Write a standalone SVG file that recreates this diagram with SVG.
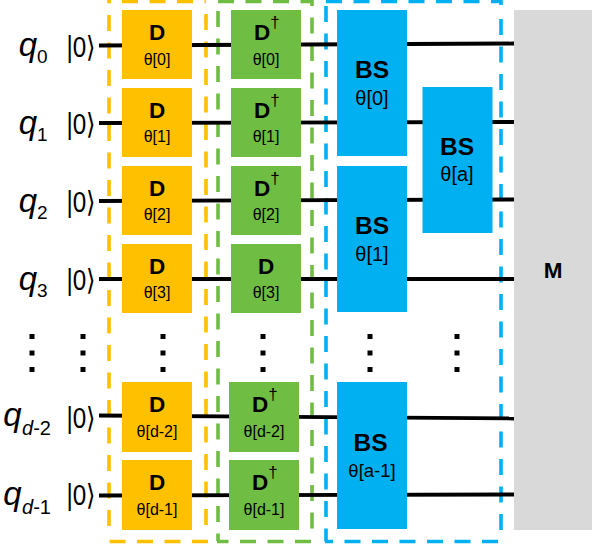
<svg xmlns="http://www.w3.org/2000/svg" width="601" height="560" viewBox="0 0 601 560">
<style>
text{font-family:"Liberation Sans",Arial,sans-serif;fill:#000;text-anchor:middle}
.w{stroke:#000;stroke-width:3.8;fill:none}
.o{fill:#ffc000}.g{fill:#70bd44}.b{fill:#00b0f0}
.t{font-size:22.500px;font-weight:bold}
.bs{font-size:24.500px;font-weight:bold}
.s{font-size:16px}
.s2{font-size:20px}
.s3{font-size:18.500px}
.dag{font-size:17px}
.q{font-size:33px;font-style:italic}
.sub{font-size:19px;text-anchor:start}
.sub2{font-size:20px;text-anchor:start}
.k{font-size:29px}
.dash{fill:none;stroke-width:3.600;stroke-dasharray:16 11.500}
</style>
<defs>
<g id="dots"><rect x="-2.500" y="0" width="5" height="5"/><rect x="-2.500" y="16.500" width="5" height="5"/><rect x="-2.500" y="33" width="5" height="5"/></g>
</defs>
<g id="frames">
<g stroke="#ffc000"><path class="dash" d="M107.200 1.500H111"/><path class="dash" d="M122 1.500H206"/><path class="dash" d="M109 15V533"/><path class="dash" d="M206 14V533"/><path class="dash" d="M109.500 541.500H208"/></g>
<g stroke="#70bd44"><path class="dash" d="M218 1.500H312V533"/><path class="dash" d="M218 11V541"/><path class="dash" d="M311 541.500H217"/></g>
<g stroke="#00b0f0"><path class="dash" d="M326 1.500H501V5"/><path class="dash" d="M326 6V541.500"/><path class="dash" d="M501 19V533"/><path class="dash" d="M498 541.500H325"/></g>
</g>
<g id="connectors">
<path class="w" d="M99 45.500L514 43.500"/>
<path class="w" d="M99 123L514 122"/>
<path class="w" d="M99 201L514 199.500"/>
<path class="w" d="M99 279L514 279"/>
<path class="w" d="M99 415.500L514 418.500"/>
<path class="w" d="M99 495.500L514 494.500"/>
</g>
<g id="labels">
<text class="q" x="28" y="56">q</text><text class="sub" x="37" y="63">0</text>
<text class="q" x="28" y="134">q</text><text class="sub" x="37" y="141">1</text>
<text class="q" x="28" y="212">q</text><text class="sub" x="37" y="219">2</text>
<text class="q" x="28" y="290">q</text><text class="sub" x="37" y="297">3</text>
<text class="q" x="12.500" y="426">q</text><text class="sub2" x="22" y="435"><tspan font-style="italic">d</tspan>-2</text>
<text class="q" x="12.500" y="505">q</text><text class="sub2" x="22" y="514"><tspan font-style="italic">d</tspan>-1</text>
<text class="k" x="81" y="57" textLength="29" lengthAdjust="spacingAndGlyphs">|0⟩</text>
<text class="k" x="81" y="134" textLength="29" lengthAdjust="spacingAndGlyphs">|0⟩</text>
<text class="k" x="81" y="212" textLength="29" lengthAdjust="spacingAndGlyphs">|0⟩</text>
<text class="k" x="81" y="290" textLength="29" lengthAdjust="spacingAndGlyphs">|0⟩</text>
<text class="k" x="81" y="427.500" textLength="29" lengthAdjust="spacingAndGlyphs">|0⟩</text>
<text class="k" x="81" y="505" textLength="29" lengthAdjust="spacingAndGlyphs">|0⟩</text>
</g>
<g id="dots-row">
<use href="#dots" x="32" y="334"/><use href="#dots" x="83" y="334"/><use href="#dots" x="163" y="334"/><use href="#dots" x="263" y="334"/><use href="#dots" x="370" y="334"/><use href="#dots" x="457" y="334"/>
</g>
<g id="d0"><rect class="o" x="122" y="10" width="70" height="69"/><text class="t" x="157" y="40">D</text><text class="s" x="157" y="65">θ[0]</text></g>
<g id="d1"><rect class="o" x="122" y="88" width="70" height="69"/><text class="t" x="157" y="118">D</text><text class="s" x="157" y="142">θ[1]</text></g>
<g id="d2"><rect class="o" x="122" y="166" width="70" height="69"/><text class="t" x="157" y="196">D</text><text class="s" x="157" y="220">θ[2]</text></g>
<g id="d3"><rect class="o" x="122" y="244" width="70" height="69"/><text class="t" x="157" y="274">D</text><text class="s" x="157" y="298">θ[3]</text></g>
<g id="d4"><rect class="o" x="122" y="382" width="70" height="70"/><text class="t" x="157" y="412">D</text><text class="s" x="157" y="437">θ[d-2]</text></g>
<g id="d5"><rect class="o" x="122" y="460" width="70" height="70"/><text class="t" x="157" y="490">D</text><text class="s" x="157" y="515">θ[d-1]</text></g>
<g id="g0"><rect class="g" x="231" y="10" width="70" height="69"/><text class="t" x="262" y="40">D</text><text class="dag" x="275" y="28">†</text><text class="s" x="266" y="65">θ[0]</text></g>
<g id="g1"><rect class="g" x="231" y="88" width="70" height="69"/><text class="t" x="262" y="118">D</text><text class="dag" x="275" y="106">†</text><text class="s" x="266" y="142">θ[1]</text></g>
<g id="g2"><rect class="g" x="231" y="166" width="70" height="69"/><text class="t" x="262" y="196">D</text><text class="dag" x="275" y="184">†</text><text class="s" x="266" y="220">θ[2]</text></g>
<g id="g3"><rect class="g" x="231" y="244" width="70" height="69"/><text class="t" x="266" y="274">D</text><text class="s" x="266" y="298">θ[3]</text></g>
<g id="g4"><rect class="g" x="229" y="382" width="70" height="70"/><text class="t" x="260" y="412">D</text><text class="dag" x="273" y="400">†</text><text class="s" x="264" y="437">θ[d-2]</text></g>
<g id="g5"><rect class="g" x="229" y="460" width="70" height="70"/><text class="t" x="260" y="490">D</text><text class="dag" x="273" y="478">†</text><text class="s" x="264" y="515">θ[d-1]</text></g>
<g id="bs0"><rect class="b" x="337" y="10" width="70" height="146"/><text class="bs" x="372" y="78">BS</text><text class="s2" x="372" y="105">θ[0]</text></g>
<g id="bs1"><rect class="b" x="337" y="166" width="70" height="146"/><text class="bs" x="372" y="234">BS</text><text class="s2" x="372" y="261">θ[1]</text></g>
<g id="bs2"><rect class="b" x="337" y="382" width="70" height="147"/><text class="bs" x="370.500" y="451">BS</text><text class="s3" x="372" y="477">θ[a-1]</text></g>
<g id="bsa"><rect class="b" x="422.500" y="87" width="70" height="146"/><text class="bs" x="457" y="155">BS</text><text class="s2" x="457" y="181">θ[a]</text></g>
<g id="m"><rect x="514" y="10" width="78" height="520" fill="#d9d9d9"/><text class="t" x="553" y="278">M</text></g>
</svg>
